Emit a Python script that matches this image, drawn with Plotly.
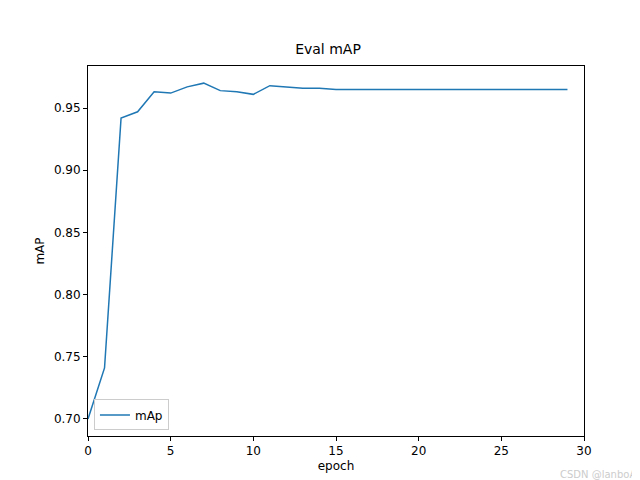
import plotly.graph_objects as go

epochs = list(range(30))
map_vals = [0.700, 0.741, 0.942, 0.947, 0.963, 0.962, 0.967, 0.970, 0.964, 0.963,
            0.961, 0.968, 0.967, 0.966, 0.966] + [0.965] * 15
x_ticks = [0, 5, 10, 15, 20, 25, 30]
y_ticks = [0.70, 0.75, 0.80, 0.85, 0.90, 0.95]

fig = go.Figure()
fig.add_trace(go.Scatter(x=epochs, y=map_vals, mode="lines", name="mAp",
                         line=dict(color="#1f77b4", width=1.5)))
axis_common = dict(showline=True, linecolor="black", linewidth=1, mirror=True,
                   ticks="outside", ticklen=4, tickcolor="black", showgrid=False,
                   zeroline=False, automargin=False, tickfont=dict(size=12, color="black"))
fig.update_layout(
    width=640, height=480, plot_bgcolor="white", paper_bgcolor="white",
    margin=dict(l=80, r=64, t=58, b=52),
    showlegend=True,
    font=dict(family="DejaVu Sans", color="black"),
    title=dict(text="Eval mAP", x=0.5, xanchor="center", y=0.915, yanchor="middle",
               font=dict(size=14)),
    xaxis=dict(range=[0, 30], tickvals=x_ticks,
               title=dict(text="epoch", font=dict(size=12), standoff=4), **axis_common),
    yaxis=dict(range=[0.6863, 0.9838], tickvals=y_ticks, tickformat=".2f",
               title=dict(text="mAP", font=dict(size=12), standoff=6), **axis_common),
    legend=dict(x=0.012, y=0.015, xanchor="left", yanchor="bottom",
                bordercolor="#cccccc", borderwidth=1, bgcolor="white",
                font=dict(size=12)),
    annotations=[dict(text="CSDN @lanboAI", xref="paper", yref="paper",
                      x=1.115, y=-0.085, xanchor="right", yanchor="top", showarrow=False,
                      font=dict(size=10, color="#cccccc"))],
)
fig.write_html("out.html")
